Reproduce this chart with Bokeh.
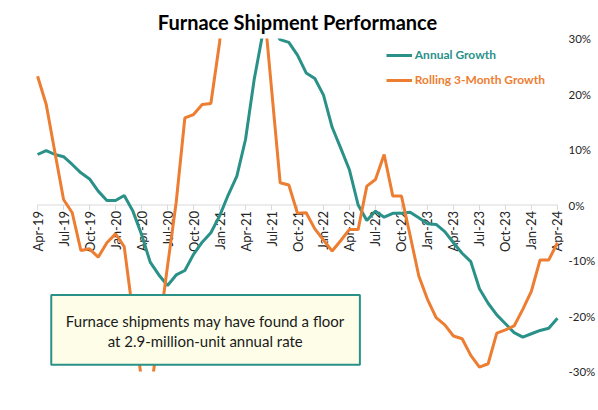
import math
import pandas as pd
from bokeh.plotting import figure
from bokeh.models import (Range1d, FixedTicker, PrintfTickFormatter, Legend,
                          LegendItem, BoxAnnotation, Label, ColumnDataSource)
from bokeh.core.properties import value
from bokeh.embed import file_html
from bokeh.resources import INLINE

# ---- data -------------------------------------------------------------
months = [d.strftime("%b-%y") for d in pd.date_range("2019-04-01", "2024-04-01", freq="MS")]

annual_growth = [9.1, 9.8, 9.1, 8.7, 7.3, 5.8, 4.7, 2.5, 0.8, 0.8,
                 1.7, -1.1, -5.3, -10.3, -12.6, -14.5, -12.6, -11.8, -8.9, -6.7,
                 -5.0, -2.0, 1.8, 5.2, 11.8, 22.6, 31.0, 32.0, 29.8, 29.3,
                 27.0, 23.8, 22.8, 19.8, 14.0, 10.2, 6.3, 0.0, -2.8, -1.1,
                 -2.2, -1.5, -1.5, -1.3, -2.3, -3.4, -3.5, -4.8, -6.8, -8.7,
                 -10.2, -15.1, -17.7, -19.8, -21.4, -23.0, -23.8, -23.2, -22.6, -22.2,
                 -20.4]

rolling_3m_growth = [23.2, 18.1, 9.5, 1.0, -1.4, -8.2, -7.9, -9.4, -6.8, -5.2,
                     -7.5, -19.5, -31.5, -34.5, -22.8, -11.0, 0.5, 15.7, 16.3, 18.1,
                     18.3, 29.2, 45.0, 55.0, 60.0, 55.0, 38.0, 21.0, 4.0, 3.6,
                     -1.5, -1.4, -4.3, -6.3, -8.3, -6.4, -4.4, -4.4, 3.4, 4.6,
                     9.1, 1.6, 1.6, -5.5, -12.8, -17.0, -20.3, -21.6, -23.6, -24.1,
                     -27.1, -29.2, -28.6, -23.1, -22.5, -21.8, -18.8, -15.5, -9.9, -9.9,
                     -6.8]

y_ticks = [-30, -20, -10, 0, 10, 20, 30]
tick_step = 3

# ---- derived ----------------------------------------------------------
idx = list(range(len(months)))
tick_idx = idx[::tick_step]
tick_labels = [months[i] for i in tick_idx]

TEAL = "#2A9189"
ORANGE = "#ED7D31"
FONT = "Lato"

p = figure(frame_width=532, frame_height=333,
           x_range=Range1d(-0.7, 60.7), y_range=Range1d(-30, 30),
           x_axis_location=None, y_axis_location="right",
           output_backend="svg", toolbar_location=None,
           min_border_left=31, min_border_right=4, min_border_top=38, min_border_bottom=12,
           title="Furnace Shipment Performance")
p.title.align = "center"
p.title.text_font = FONT
p.title.text_font_size = "20px"
p.title.text_font_style = "bold"
p.title.text_color = "#000000"

p.xgrid.visible = False
p.ygrid.visible = False
p.outline_line_color = None
p.background_fill_color = "white"
p.border_fill_color = "white"

ax = p.yaxis[0]
ax.ticker = FixedTicker(ticks=y_ticks)
ax.formatter = PrintfTickFormatter(format="%d%%")
ax.axis_line_color = None
ax.major_tick_line_color = None
ax.minor_tick_line_color = None
ax.major_tick_out = 0
ax.major_tick_in = 0
ax.major_label_standoff = 5
ax.major_label_text_align = "left"
ax.major_label_text_font = FONT
ax.major_label_text_font_size = "11.5px"
ax.major_label_text_color = "#262626"

# zero axis line with ticks and rotated labels
p.line(x=[idx[0], idx[-1]], y=[0, 0], line_color="#D9D9D9", line_width=1)
p.segment(x0=tick_idx, y0=[0] * len(tick_idx), x1=tick_idx, y1=[-0.9] * len(tick_idx),
          line_color="#D9D9D9", line_width=1)
p.text(x=tick_idx, y=[0] * len(tick_idx), text=tick_labels, angle=math.pi / 2,
       text_align="right", text_baseline="middle", y_offset=6,
       text_font=value(FONT), text_font_size="13px", text_color="#262626")

src = ColumnDataSource(dict(x=idx, annual=annual_growth, rolling=rolling_3m_growth))
r_annual = p.line("x", "annual", source=src, line_color=TEAL, line_width=3)
r_roll = p.line("x", "rolling", source=src, line_color=ORANGE, line_width=3)

def make_legend(label, renderer, color, vy):
    lg = Legend(items=[LegendItem(label=label, renderers=[renderer])],
                location=(354.8, vy), padding=0, margin=0, spacing=0,
                glyph_width=26, glyph_height=18, label_height=18, label_standoff=3,
                border_line_color=None, background_fill_alpha=0,
                label_text_font=FONT, label_text_font_size="12px",
                label_text_font_style="bold", label_text_color=color)
    p.add_layout(lg, "center")

make_legend("Annual Growth", r_annual, TEAL, 307.5)
make_legend("Rolling 3-Month Growth", r_roll, ORANGE, 282.5)

box = BoxAnnotation(left=1.58, right=37.2, bottom=-28.8, top=-16.2,
                    fill_color="#FEFEE8", fill_alpha=1.0,
                    line_color=TEAL, line_width=2, line_alpha=1.0)
p.add_layout(box)
p.add_layout(Label(x=19.35, y=-20.9, text="Furnace shipments may have found a floor",
                   text_align="center", text_baseline="middle",
                   text_font=FONT, text_font_size="15px", text_color="#1A1A1A"))
p.add_layout(Label(x=19.35, y=-24.5, text="at 2.9-million-unit annual rate",
                   text_align="center", text_baseline="middle",
                   text_font=FONT, text_font_size="15px", text_color="#1A1A1A"))

open("out.html", "w").write(file_html(p, INLINE))
